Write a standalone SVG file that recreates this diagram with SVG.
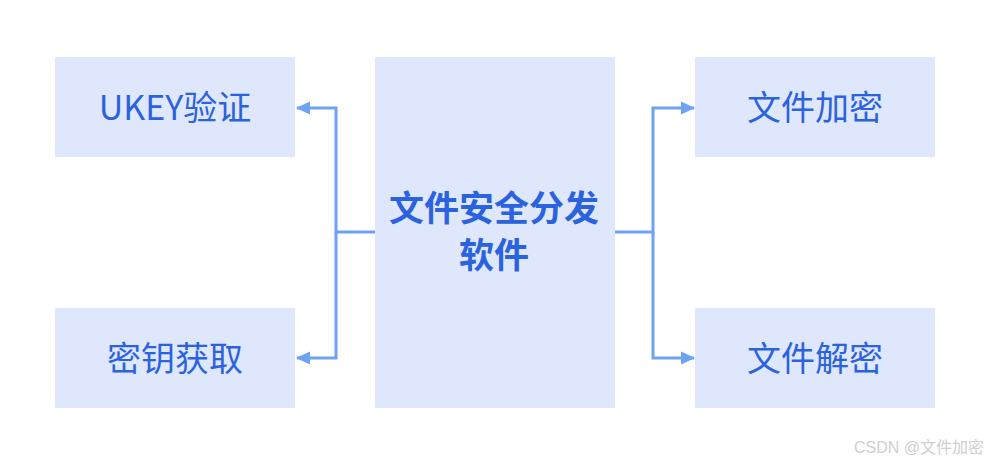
<svg xmlns="http://www.w3.org/2000/svg" width="990" height="465" viewBox="0 0 990 465">
<style>
.box{fill:#dfe7fc}
.t{font-family:"Noto Sans CJK SC","Noto Sans",sans-serif;font-size:34px;fill:#2a62e0;text-anchor:middle}
.b{font-weight:bold;font-size:35px}
.c{fill:none;stroke:#6ea2f2;stroke-width:3}
.wm{font-family:"Liberation Sans","Noto Sans CJK SC",sans-serif;font-size:16px;fill:#cfcfcf;text-anchor:end}
</style>
<defs>
<marker id="ah" viewBox="0 0 14 14" refX="13" refY="7" markerWidth="14" markerHeight="14" markerUnits="userSpaceOnUse" orient="auto">
<path d="M0,0.5 L14,7 L0,13.5 Z" fill="#6ea2f2"/>
</marker>
</defs>
<rect width="990" height="465" fill="#ffffff"/>
<g id="connectors">
<path class="c" d="M375,232 H336 V108 H297" marker-end="url(#ah)"/>
<path class="c" d="M336,232 V358 H297" marker-end="url(#ah)"/>
<path class="c" d="M615,232 H653 V108 H694" marker-end="url(#ah)"/>
<path class="c" d="M653,232 V358 H694" marker-end="url(#ah)"/>
</g>
<g id="ukey">
<rect class="box" x="55" y="57" width="240" height="100"/>
<text class="t" x="175" y="120">UKEY验证</text>
</g>
<g id="key">
<rect class="box" x="55" y="308" width="240" height="100"/>
<text class="t" x="175" y="371">密钥获取</text>
</g>
<g id="center">
<rect class="box" x="375" y="57" width="240" height="351"/>
<text class="t b" x="494" y="221">文件安全分发</text>
<text class="t b" x="494" y="268">软件</text>
</g>
<g id="enc">
<rect class="box" x="695" y="57" width="240" height="100"/>
<text class="t" x="815" y="120">文件加密</text>
</g>
<g id="dec">
<rect class="box" x="695" y="308" width="240" height="100"/>
<text class="t" x="815" y="371">文件解密</text>
</g>
<text class="wm" x="984" y="453">CSDN @文件加密</text>
</svg>
